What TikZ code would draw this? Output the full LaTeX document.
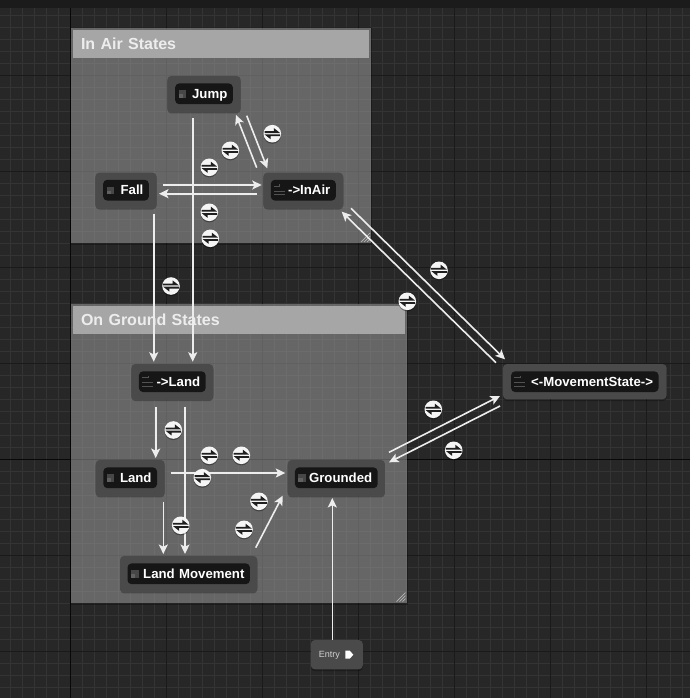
\documentclass[tikz,border=0pt]{standalone}
\usepackage{fontspec}
\setmainfont{Liberation Sans}
\usetikzlibrary{arrows.meta}
\definecolor{bgc}{HTML}{272727}
\definecolor{minorc}{HTML}{343434}
\definecolor{majorc}{HTML}{1A1A1A}
\definecolor{originc}{HTML}{080808}
\definecolor{bandc}{HTML}{1B1B1B}
\definecolor{titlec}{HTML}{A6A6A6}
\definecolor{boxc}{HTML}{4A4A4A}
\definecolor{pillc}{HTML}{161616}
\definecolor{linec}{HTML}{EDEDED}
\tikzset{
  commentbody/.style={fill=white,fill opacity=.33,draw=none,inner sep=0pt,outer sep=0pt},
  commenttitle/.style={fill=titlec,draw=none,inner xsep=8pt,inner ysep=0pt,outer sep=0pt,
    text=white!93!black,font=\fontsize{16}{16}\selectfont\bfseries,align=left,text height=13pt,text depth=1pt},
  statebox/.style={fill=boxc,draw=none,rounded corners=4pt,inner sep=0pt,outer sep=0pt,
    preaction={fill=black,fill opacity=.28,transform canvas={yshift=-1.8pt}}},
  statepill/.style={fill=pillc,draw=none,rounded corners=4pt,inner xsep=5.5pt,inner ysep=0pt,outer sep=0pt,
    minimum height=20.7pt,text=white,font=\fontsize{13.2}{14}\selectfont\bfseries,align=right,text height=11pt,text depth=1.6pt},
  transline/.style={draw=linec,line width=1.6pt,-{Stealth[length=9.5pt,width=9pt,inset=2.2pt]}},
  transicon/.style={circle,fill=white!96!black,draw=none,minimum size=17.6pt,inner sep=0pt,outer sep=0pt,
    preaction={fill=black,fill opacity=.35,transform canvas={yshift=-1.3pt}},
    path picture={
      \begin{scope}[shift={(path picture bounding box.center)}]
        \fill[black!88] (-7.8,-2.5) -- (1.6,-2.5) -- (1.6,-5.6) -- (7.8,-0.7) -- (-7.8,-0.7) -- cycle;
        \fill[black!88] (7.8,2.5) -- (-1.6,2.5) -- (-1.6,5.6) -- (-7.8,0.7) -- (7.8,0.7) -- cycle;
      \end{scope}}},
  iconback/.style={fill=black!72},
  iconfront/.style={fill=black!62},
  iconline/.style={draw=black!68,line width=.9pt},
}
\newcommand{\statenode}[8]{% name cx cy outerw outerh pillw text icon
  \node[statebox,minimum width=#4pt,minimum height=#5pt] (#1) at (#2,#3) {};
  \node[statepill,minimum width=#6pt,text width=\dimexpr#6pt-11pt\relax] (#1-pill) at (#1.center) {#7};
  #8{#1-pill}}
\newcommand{\stateicon}[1]{%
  \fill[iconback] ([shift={(3.4,-3.4)}]#1.west) rectangle ++(7.6,7.6);
  \fill[iconfront] ([shift={(3.4,0.6)}]#1.west) rectangle ++(4.4,3.6);
}
\newcommand{\conduiticon}[1]{%
  \draw[iconline] ([shift={(3,-4)}]#1.west) -- ++(6,0) -- ++(0,-2);
  \draw[iconline] ([shift={(3,1)}]#1.west) -- ++(11,0);
  \draw[iconline] ([shift={(3,4.5)}]#1.west) -- ++(11,0);
}
\newcommand{\conn}[6]{\draw[transline] ([shift={(#2,#3)}]#1.center) -- ([shift={(#5,#6)}]#4.center);}
\newcommand{\grip}[2]{%
  \foreach \k in {0,3,6,9}{\draw[white!72!black,line width=.7pt] (#1-\k,#2) -- (#1,#2-\k);}
}
\begin{document}
\begin{tikzpicture}[x=1pt,y=-1pt]
\useasboundingbox (0,0) rectangle (690,698);
% background and grid
\fill[bgc] (0,0) rectangle (690,698);
\foreach \i in {-5,...,52}{\draw[minorc,line width=1pt] ({70.7+12*\i},0) -- ({70.7+12*\i},698);}
\foreach \i in {-6,...,53}{\draw[minorc,line width=1pt] (0,{75.7+12*\i}) -- (690,{75.7+12*\i});}
\foreach \x in {166.7,262.7,358.7,454.7,550.7,646.7}{\draw[majorc,line width=1pt] (\x,0) -- (\x,698);}
\foreach \y in {75.7,171.7,267.7,363.7,555.7,651.7}{\draw[majorc,line width=1pt] (0,\y) -- (690,\y);}
\draw[originc,line width=1pt] (70.7,0) -- (70.7,698);
\draw[originc,line width=1pt] (0,459.7) -- (690,459.7);
\fill[bandc] (0,0) rectangle (690,8);
% comments
\fill[black,opacity=.3] (70,27.5) rectangle (372,245);
\fill[black,opacity=.3] (70,303.5) rectangle (408,604.5);
\node[commentbody,minimum width=300pt,minimum height=215pt] (airbody) at (221,135.8) {};
\node[commenttitle,anchor=north west,minimum height=27.7pt,text width=280pt] (airtitle) at (73,30) {In Air States};
\node[commentbody,minimum width=336pt,minimum height=298.7pt] (groundbody) at (239,453.4) {};
\node[commenttitle,anchor=north west,minimum height=27.7pt,text width=315.7pt] (groundtitle) at (73,306) {On Ground States};
\grip{370}{242}
\grip{405.5}{601.5}
% states
\statenode{jump}{204}{93.8}{73.4}{35.7}{57.7}{Jump}{\stateicon}
\statenode{fall}{126}{190.2}{61.4}{35}{45.7}{Fall}{\stateicon}
\statenode{inair}{303.3}{190.2}{80}{35}{65}{->InAir}{\conduiticon}
\statenode{toland}{172.3}{381.7}{82}{35.3}{66.7}{->Land}{\conduiticon}
\statenode{land}{130.2}{477.8}{69}{35.7}{53.7}{Land}{\stateicon}
\statenode{grounded}{336.3}{477.8}{97.3}{35.7}{82.7}{Grounded}{\stateicon}
\statenode{landmov}{188.7}{573.8}{137.3}{35.7}{122.4}{Land Movement}{\stateicon}
\statenode{mov}{584.8}{381.7}{163.7}{35.3}{147.4}{<-MovementState->}{\conduiticon}
\node[statebox,minimum width=51.7pt,minimum height=29.3pt,text=white!82!black,font=\fontsize{9}{9}\selectfont,
  text width=36pt,align=left,inner xsep=8pt,text height=7.5pt,text depth=1pt] (entry) at (336.8,654.7) {Entry};
\fill[white] ([shift={(8.5,-4)}]entry.center) -- ++(4.5,0) -- ++(3.5,4) -- ++(-3.5,4) -- ++(-4.5,0) -- cycle;
% transitions
\conn{jump}{-11.3}{24.5}{toland}{20.4}{-20}
\conn{fall}{27.7}{23.8}{toland}{-18.6}{-20}
\conn{fall}{37.3}{-5.2}{inair}{-41.6}{-5.2}
\conn{inair}{-46.6}{3.5}{fall}{33}{3.5}
\conn{inair}{-46.6}{-22.5}{jump}{32}{21.2}
\conn{jump}{42.7}{21.9}{inair}{-36}{-21.9}
\conn{mov}{-88.8}{-19}{inair}{38.4}{21.5}
\conn{inair}{47.7}{18.1}{mov}{-79.8}{-22.4}
\conn{grounded}{52.7}{-25.5}{mov}{-84.8}{14.3}
\conn{mov}{-84.8}{24.3}{grounded}{52.7}{-15.5}
\conn{land}{40.8}{-4.8}{grounded}{-51}{-4.8}
\conn{landmov}{67}{-26.1}{grounded}{-53.6}{17.9}
\conn{land}{33.1}{24.2}{landmov}{-25.4}{-19.8}
\conn{toland}{-16.6}{25}{land}{25.5}{-19.8}
\conn{toland}{12.7}{25}{landmov}{-3.7}{-19.8}
\conn{entry}{-4.5}{-14.7}{grounded}{-4}{20.2}
% transition icons
\foreach \n/\x/\y in {t1/272.3/133.7,t2/230.3/150.3,t3/209.3/167.3,t4/209.3/212.3,t5/210.3/238.3,
  t6/171/286,t7/173.3/430,t8/209.3/455.3,t9/241.3/455.3,t10/202.3/477.7,t11/259/501.3,t12/244/529.3,
  t13/180.7/525.3,t14/439/270.3,t15/407.3/301.3,t16/433.3/409.3,t17/453.7/450.3}{
  \node[transicon] (\n) at (\x,\y) {};
}
\end{tikzpicture}
\end{document}
